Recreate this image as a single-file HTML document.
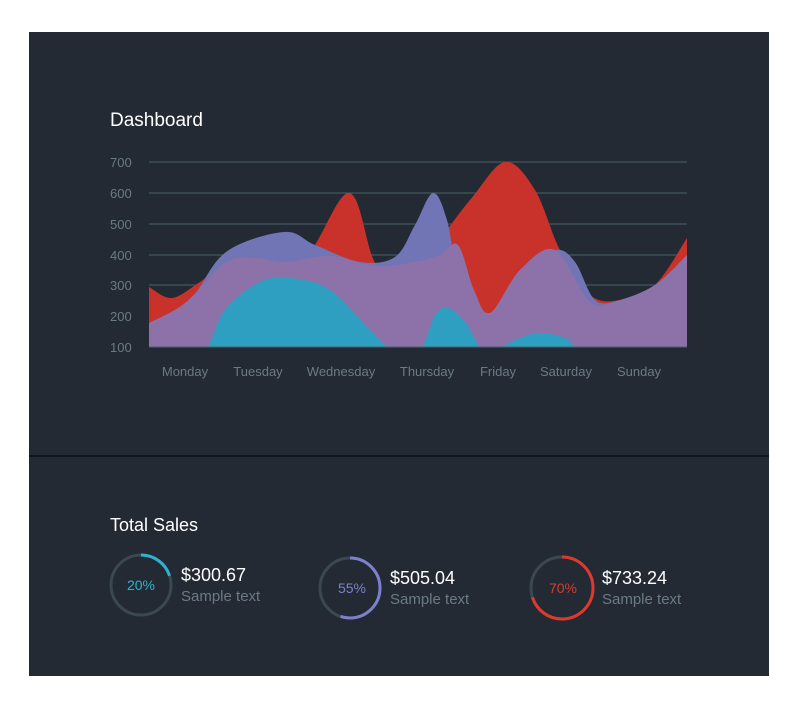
<!DOCTYPE html>
<html><head><meta charset="utf-8"><style>
body{margin:0;background:#fff;width:800px;height:700px;overflow:hidden;font-family:"Liberation Sans",sans-serif}
</style></head><body>
<svg width="800" height="700" xmlns="http://www.w3.org/2000/svg">
<defs><clipPath id="cp"><rect x="149" y="100" width="538" height="247"/></clipPath></defs>
<rect x="29" y="32" width="740" height="644" fill="#232a33"/>
<line x1="29" y1="456" x2="769" y2="456" stroke="#12161b" stroke-width="2"/>
<text x="110" y="126" fill="#fff" font-size="19">Dashboard</text>
<g stroke="#4b6068" stroke-width="1">
<line x1="149" y1="162" x2="687" y2="162"/><line x1="149" y1="193" x2="687" y2="193"/>
<line x1="149" y1="224" x2="687" y2="224"/><line x1="149" y1="255" x2="687" y2="255"/>
<line x1="149" y1="285" x2="687" y2="285"/><line x1="149" y1="316" x2="687" y2="316"/>
</g>
<g fill="#6c7a86" font-size="13">
<text x="110" y="167">700</text><text x="110" y="198">600</text><text x="110" y="229">500</text>
<text x="110" y="260">400</text><text x="110" y="290">300</text><text x="110" y="321">200</text><text x="110" y="352">100</text>
</g>
<g clip-path="url(#cp)">
<path id="red" fill="#c9322a"/>
<path id="blue" fill="#7175b6"/>
<path id="purp" fill="#8c72a8"/>
<path id="cyan" fill="#2e9fc0"/>
</g>
<line x1="149" y1="347" x2="687" y2="347" stroke="#4b6068"/>
<g fill="#6c7a86" font-size="13" text-anchor="middle">
<text x="185" y="376">Monday</text><text x="258" y="376">Tuesday</text><text x="341" y="376">Wednesday</text>
<text x="427" y="376">Thursday</text><text x="498" y="376">Friday</text><text x="566" y="376">Saturday</text><text x="639" y="376">Sunday</text>
</g>
<text x="110" y="531" fill="#fff" font-size="18">Total Sales</text>
<g fill="none" stroke-width="3">
<circle cx="141" cy="585" r="30" stroke="#3b4851"/>
<circle cx="141" cy="585" r="30" stroke="#2eb2cf" stroke-dasharray="37.7 300" transform="rotate(-90 141 585)"/>
<circle cx="350" cy="588" r="30" stroke="#3b4851"/>
<circle cx="350" cy="588" r="30" stroke="#7d80cc" stroke-dasharray="103.7 300" transform="rotate(-90 350 588)"/>
<circle cx="562" cy="588" r="31" stroke="#3b4851"/>
<circle cx="562" cy="588" r="31" stroke="#e0392c" stroke-dasharray="136.3 300" transform="rotate(-90 562 588)"/>
</g>
<g font-size="14" text-anchor="middle">
<text x="141" y="590" fill="#2eb2cf">20%</text>
<text x="352" y="593" fill="#7d80cc">55%</text>
<text x="563" y="593" fill="#e0392c">70%</text>
</g>
<g font-size="18" fill="#fff"><text x="181" y="581">$300.67</text><text x="390" y="584">$505.04</text><text x="602" y="584">$733.24</text></g>
<g font-size="15" fill="#6c7a86"><text x="181" y="601">Sample text</text><text x="390" y="604">Sample text</text><text x="602" y="604">Sample text</text></g>
</svg>
<script>
function sm(p){let d="M149,360 L"+p[0][0]+","+p[0][1];
for(let i=0;i<p.length-1;i++){const a=p[i-1]||p[i],b=p[i],c=p[i+1],e=p[i+2]||c;
d+=" C"+(b[0]+(c[0]-a[0])/6)+","+(b[1]+(c[1]-a[1])/6)+" "+(c[0]-(e[0]-b[0])/6)+","+(c[1]-(e[1]-b[1])/6)+" "+c[0]+","+c[1];}
return d+" L687,360 Z";}
const S=(id,p)=>document.getElementById(id).setAttribute("d",sm(p));
S("red",[[149,287],[172,298],[200,282],[230,262],[300,262],[349,193],[378,267],[420,260],[470,200],[505,162],[535,190],[560,250],[590,295],[620,300],[655,285],[687,238]]);
S("blue",[[149,330],[190,300],[226,252],[284,232],[315,245],[360,262],[395,257],[415,225],[433,193],[447,220],[460,280],[490,313],[520,270],[555,250],[575,262],[595,300],[620,300],[655,285],[687,258]]);
S("purp",[[149,323],[185,303],[225,263],[255,258],[285,262],[330,256],[376,266],[415,262],[440,255],[458,245],[474,290],[490,313],[520,270],[555,250],[590,302],[620,300],[655,285],[687,255]]);
S("cyan",[[149,352],[200,355],[225,310],[260,282],[291,278],[330,290],[370,330],[395,352],[420,350],[435,315],[448,308],[465,322],[486,352],[515,340],[538,333],[565,338],[590,352],[687,352]]);
</script>
</body></html>
